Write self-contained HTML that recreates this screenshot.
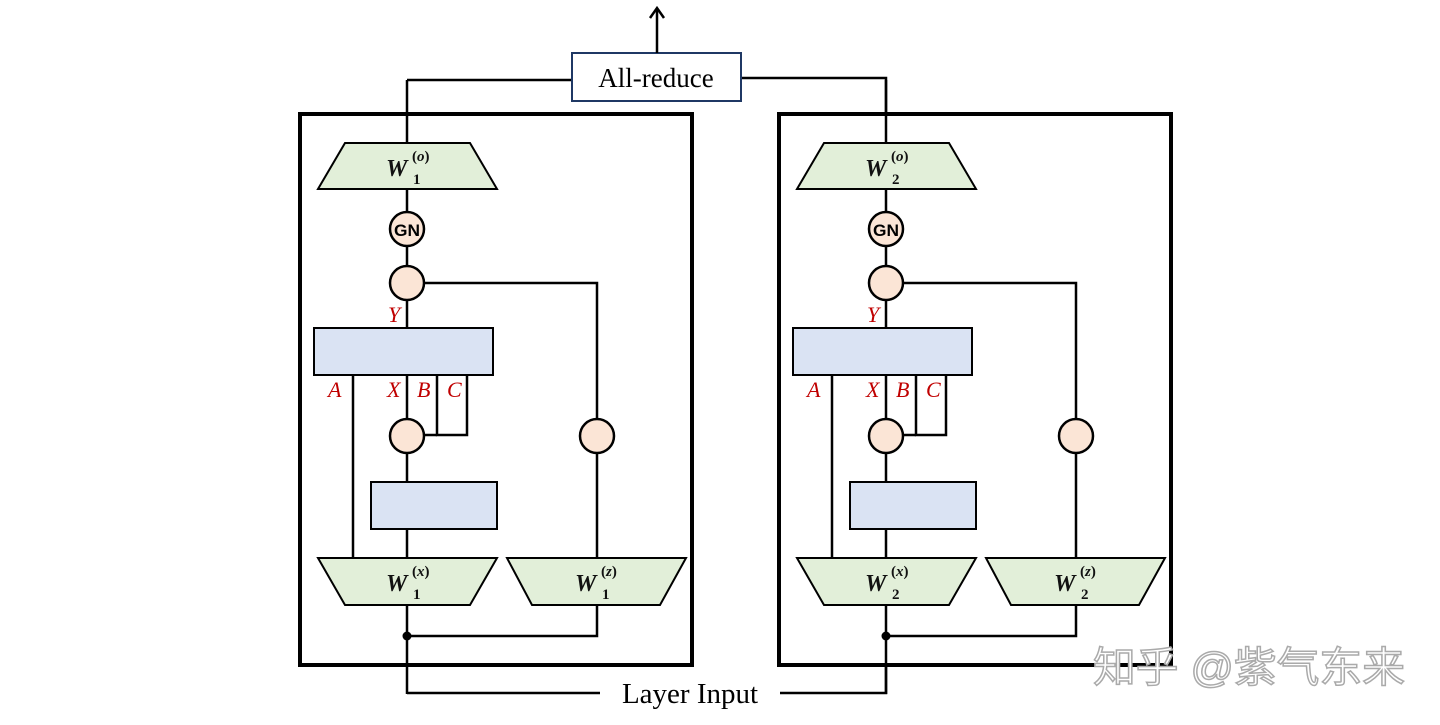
<!DOCTYPE html>
<html><head><meta charset="utf-8"><style>html,body{margin:0;padding:0;background:#fff;}svg{display:block}</style></head>
<body>
<svg width="1440" height="725" viewBox="0 0 1440 725" xmlns="http://www.w3.org/2000/svg">
<defs>
<g id="panel">
  <rect x="300" y="114" width="392" height="551" fill="none" stroke="#000" stroke-width="4"/>
  <line x1="407" y1="80" x2="407" y2="143" stroke="#000" stroke-width="2.5"/>
  <polygon points="345,143 470,143 497,189 318,189" fill="#e2efd9" stroke="#000" stroke-width="2"/>
  <line x1="407" y1="189" x2="407" y2="419" stroke="#000" stroke-width="2.5"/>
  <circle cx="407" cy="229" r="17" fill="#fbe5d6" stroke="#000" stroke-width="2.5"/>
  <text x="407" y="236" font-family="Liberation Sans, sans-serif" font-weight="bold" font-size="17" text-anchor="middle" textLength="26" lengthAdjust="spacingAndGlyphs">GN</text>
  <polyline points="424,283 597,283 597,419" fill="none" stroke="#000" stroke-width="2.5"/>
  <circle cx="407" cy="283" r="17" fill="#fbe5d6" stroke="#000" stroke-width="2.5"/>
  <rect x="314" y="328" width="179" height="47" fill="#dae3f3" stroke="#000" stroke-width="2"/>
  <line x1="353" y1="375" x2="353" y2="558" stroke="#000" stroke-width="2.5"/>
  <polyline points="437,375 437,435 467,435 467,375" fill="none" stroke="#000" stroke-width="2.5"/>
  <line x1="420" y1="435" x2="437" y2="435" stroke="#000" stroke-width="2.5"/>
  <circle cx="407" cy="436" r="17" fill="#fbe5d6" stroke="#000" stroke-width="2.5"/>
  <circle cx="597" cy="436" r="17" fill="#fbe5d6" stroke="#000" stroke-width="2.5"/>
  <line x1="407" y1="453" x2="407" y2="558" stroke="#000" stroke-width="2.5"/>
  <line x1="597" y1="453" x2="597" y2="558" stroke="#000" stroke-width="2.5"/>
  <rect x="371" y="482" width="126" height="47" fill="#dae3f3" stroke="#000" stroke-width="2"/>
  <polygon points="318,558 497,558 470,605 345,605" fill="#e2efd9" stroke="#000" stroke-width="2"/>
  <polygon points="507,558 686,558 660,605 532,605" fill="#e2efd9" stroke="#000" stroke-width="2"/>
  <line x1="407" y1="605" x2="407" y2="694" stroke="#000" stroke-width="2.5"/>
  <polyline points="407,636 597,636 597,605" fill="none" stroke="#000" stroke-width="2.5"/>
  <circle cx="407" cy="636" r="4.5" fill="#000"/>
  <g font-family="Liberation Serif, serif" font-style="italic" fill="#c00000" font-size="22">
    <text x="388" y="322">Y</text>
    <text x="328" y="397">A</text>
    <text x="387" y="397">X</text>
    <text x="417" y="397">B</text>
    <text x="447" y="397">C</text>
  </g>
  <g font-family="Liberation Serif, serif" font-weight="bold" fill="#111">
    <text x="386" y="176" font-size="24" font-style="italic">W</text>
    <text x="412" y="161" font-size="15">(<tspan font-style="italic">o</tspan>)</text>
    <text x="413" y="184" font-size="15">1</text>
    <text x="386" y="591" font-size="24" font-style="italic">W</text>
    <text x="412" y="576" font-size="15">(<tspan font-style="italic">x</tspan>)</text>
    <text x="413" y="599" font-size="15">1</text>
    <text x="575" y="591" font-size="24" font-style="italic">W</text>
    <text x="601" y="576" font-size="15">(<tspan font-style="italic">z</tspan>)</text>
    <text x="602" y="599" font-size="15">1</text>
  </g>
</g>
</defs>
<use href="#panel"/>
<use href="#panel" transform="translate(479,0)"/>
<g font-family="Liberation Serif, serif" font-weight="bold" fill="#111" font-size="15">
  <rect x="891" y="172" width="11" height="14" fill="#e2efd9"/>
  <text x="892" y="184">2</text>
  <rect x="891" y="587" width="11" height="14" fill="#e2efd9"/>
  <text x="892" y="599">2</text>
  <rect x="1080" y="587" width="11" height="14" fill="#e2efd9"/>
  <text x="1081" y="599">2</text>
</g>
<polyline points="407,80 572,80" stroke="#000" stroke-width="2.5" fill="none"/>
<polyline points="741,78 886,78 886,114" stroke="#000" stroke-width="2.5" fill="none"/>
<rect x="572" y="53" width="169" height="48" fill="#fff" stroke="#1f3864" stroke-width="2"/>
<text x="656" y="87" font-family="Liberation Serif, serif" font-size="27" text-anchor="middle">All-reduce</text>
<line x1="657" y1="53" x2="657" y2="9" stroke="#000" stroke-width="2.5"/>
<polyline points="650,18 657,8 664,18" fill="none" stroke="#000" stroke-width="2.5"/>
<line x1="407" y1="693" x2="600" y2="693" stroke="#000" stroke-width="2.5"/>
<polyline points="780,693 886,693 886,665" fill="none" stroke="#000" stroke-width="2.5"/>
<text x="690" y="703" font-family="Liberation Serif, serif" font-size="29" text-anchor="middle">Layer Input</text>
<text x="1093" y="682" font-family="Liberation Sans, 'Noto Sans CJK SC', sans-serif" font-size="42" fill="#fff" stroke="#aaa" stroke-width="1.5" textLength="312" lengthAdjust="spacingAndGlyphs">知乎 @紫气东来</text>
</svg>
</body></html>
